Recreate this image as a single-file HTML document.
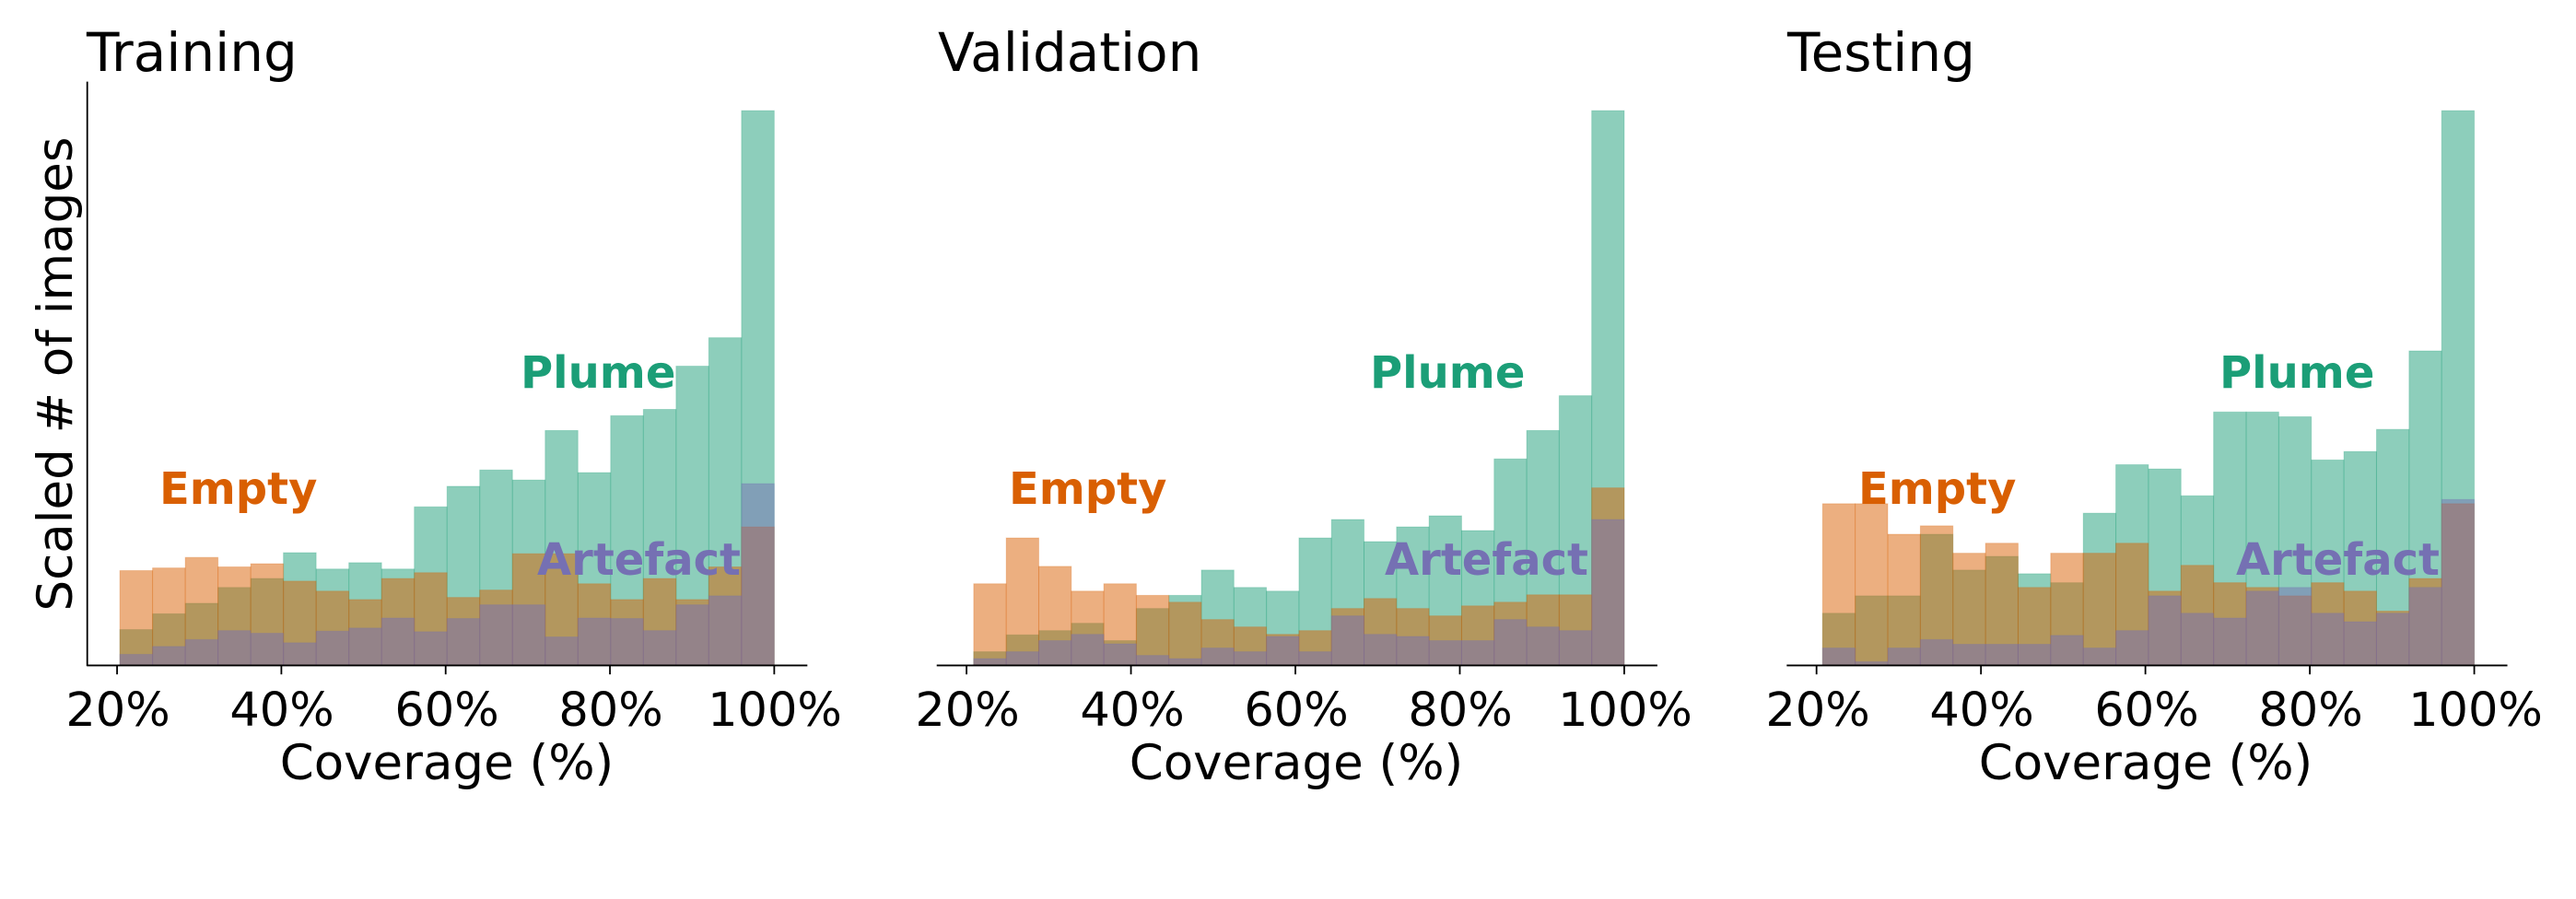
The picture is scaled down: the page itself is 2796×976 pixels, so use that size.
<!DOCTYPE html>
<html><head><meta charset="utf-8"><style>
html,body{margin:0;padding:0;background:#fff;width:2796px;height:976px;overflow:hidden}
svg{display:block}
text{font-family:"DejaVu Sans","Liberation Sans",sans-serif}
</style></head><body>
<svg id="s" width="2796" height="976" viewBox="0 0 2796 976" xmlns="http://www.w3.org/2000/svg">
<rect width="2796" height="976" fill="#fff"/>
<g id="p0" transform="translate(0,0) scale(0.5994,0.572)">
<g class="bars"></g>
<line x1="158" y1="155" x2="158" y2="1264" stroke="#000" stroke-width="1.8" vector-effect="non-scaling-stroke"/>
<line x1="157" y1="1263" x2="1462" y2="1263" stroke="#000" stroke-width="1.8" vector-effect="non-scaling-stroke"/>
</g>
<g id="p1" transform="translate(925,0) scale(0.5994,0.572)">
<g class="bars"></g>
<line x1="153" y1="1263" x2="1458" y2="1263" stroke="#000" stroke-width="1.8" vector-effect="non-scaling-stroke"/>
</g>
<g id="p2" transform="translate(1850,0) scale(0.5994,0.572)">
<g class="bars"></g>
<line x1="149" y1="1263" x2="1454" y2="1263" stroke="#000" stroke-width="1.8" vector-effect="non-scaling-stroke"/>
</g>

<g font-size="58">
<text x="94" y="77">Training</text>
<text x="1018" y="77">Validation</text>
<text x="1940" y="77">Testing</text>
</g>
<text transform="translate(78,406) rotate(-90)" text-anchor="middle" font-size="53">Scaled # of images</text>
<g font-size="53" text-anchor="middle">
<text x="485" y="846">Coverage (%)</text>
<text x="1407" y="846">Coverage (%)</text>
<text x="2329" y="846">Coverage (%)</text>
</g>
<g font-size="51" text-anchor="middle">
<text x="128" y="788">20%</text><text x="306" y="788">40%</text><text x="485" y="788">60%</text><text x="663" y="788">80%</text><text x="841" y="788">100%</text>
<text x="1050" y="788">20%</text><text x="1229" y="788">40%</text><text x="1407" y="788">60%</text><text x="1585" y="788">80%</text><text x="1764" y="788">100%</text>
<text x="1973" y="788">20%</text><text x="2151" y="788">40%</text><text x="2330" y="788">60%</text><text x="2508" y="788">80%</text><text x="2687" y="788">100%</text>
</g>
<g font-size="48" font-weight="bold">
<text x="565" y="421" fill="#1b9e77">Plume</text>
<text x="173" y="547" fill="#d95f02">Empty</text>
<text x="583" y="624" fill="#7570b3">Artefact</text>
<text x="1487" y="421" fill="#1b9e77">Plume</text>
<text x="1095" y="547" fill="#d95f02">Empty</text>
<text x="1503" y="624" fill="#7570b3">Artefact</text>
<text x="2409" y="421" fill="#1b9e77">Plume</text>
<text x="2017" y="547" fill="#d95f02">Empty</text>
<text x="2427" y="624" fill="#7570b3">Artefact</text>
</g>
</svg>
<script>
var NS="http://www.w3.org/2000/svg";
var panels=[
{id:"p0",x0:217,w:59.25,t0:212,t1:1402,
G:[1195,1165,1145,1115,1098,1049,1080,1068,1080,962,923,892,911,817,897,789,777,695,641,210],
O:[1083,1078,1058,1076,1070,1103,1122,1138,1098,1087,1134,1120,1051,1051,1108,1138,1098,1138,1076,1000],
P:[1242,1227,1214,1197,1202,1220,1198,1192,1173,1199,1174,1148,1148,1209,1173,1174,1197,1148,1131,918]},
{id:"p1",x0:220,w:58.9,t0:207,t1:1398,
G:[1237,1205,1197,1183,1216,1155,1130,1082,1115,1122,1021,986,1028,1000,979,1007,871,817,751,210],
O:[1108,1021,1075,1122,1108,1130,1143,1176,1190,1204,1197,1155,1136,1155,1169,1150,1143,1129,1129,926],
P:[1250,1237,1216,1204,1222,1244,1250,1230,1237,1208,1237,1169,1204,1208,1216,1216,1176,1190,1197,986]},
{id:"p2",x0:214,w:59,t0:203,t1:1394,
G:[1164,1131,1131,1014,1082,1056,1089,1106,974,882,890,941,782,782,791,873,857,815,666,210],
O:[956,956,1014,998,1050,1031,1115,1050,1050,1031,1122,1073,1106,1115,1131,1106,1122,1160,1098,956],
P:[1230,1256,1230,1214,1223,1223,1223,1206,1230,1197,1131,1164,1173,1122,1115,1164,1180,1164,1115,948]}
];
var cols={G:"#1b9e77",O:"#d95f02",P:"#7570b3"};
panels.forEach(function(p){
  var g=document.querySelector("#"+p.id+" .bars");
  ["G","O","P"].forEach(function(k){
    p[k].forEach(function(y,i){
      var r=document.createElementNS(NS,"rect");
      r.setAttribute("x",p.x0+i*p.w);r.setAttribute("y",y);
      r.setAttribute("width",p.w);r.setAttribute("height",1263-y);
      r.setAttribute("fill",cols[k]);r.setAttribute("fill-opacity","0.5");
      r.setAttribute("stroke",cols[k]);r.setAttribute("stroke-opacity","0.25");r.setAttribute("stroke-width","1");
      r.setAttribute("vector-effect","non-scaling-stroke");
      g.appendChild(r);
    });
  });
  var pg=document.getElementById(p.id);
  for(var j=0;j<5;j++){
    var x=p.t0+j*(p.t1-p.t0)/4;
    var l=document.createElementNS(NS,"line");
    l.setAttribute("x1",x);l.setAttribute("x2",x);l.setAttribute("y1",1263);l.setAttribute("y2",1280);
    l.setAttribute("stroke","#000");l.setAttribute("stroke-width","1.8");l.setAttribute("vector-effect","non-scaling-stroke");
    pg.appendChild(l);
  }
});
</script>
</body></html>
